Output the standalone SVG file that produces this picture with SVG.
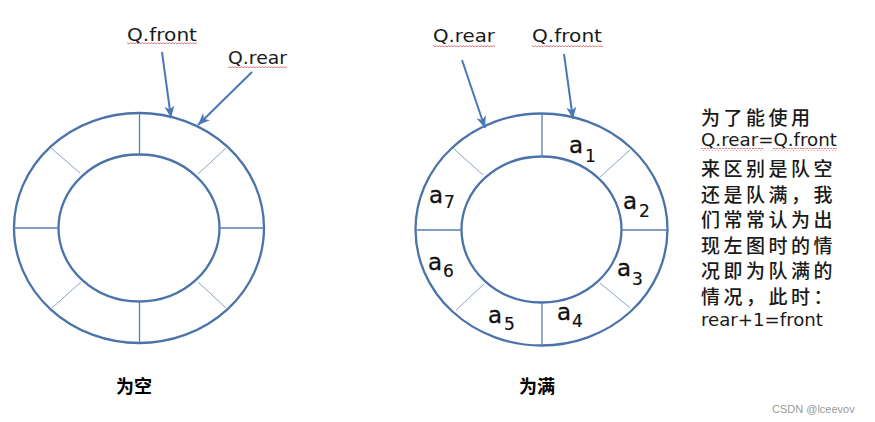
<svg xmlns="http://www.w3.org/2000/svg" width="875" height="422" viewBox="0 0 875 422">
<style>
.ring{fill:none;stroke:#4b73aa;stroke-width:2.3}
.div{stroke:#5a7eb0;stroke-width:1.3}
.diag{stroke:#7c98c2;stroke-width:0.9}
.arr{fill:none;stroke:#4a78b6;stroke-width:2}
.lbl{font-family:"DejaVu Sans",Verdana,sans-serif;font-size:18px;fill:#1a1a1a}
.el{font-family:"DejaVu Sans",Verdana,sans-serif;font-size:23px;fill:#111;stroke:#111;stroke-width:0.35}
.sub{font-size:17px;stroke-width:0.2}
.cjk{font-family:"Noto Sans CJK SC",sans-serif;font-size:19px;font-weight:500;letter-spacing:3.5px;fill:#1a1a1a}
.lat{font-family:"DejaVu Sans",Verdana,sans-serif;font-size:18px;fill:#1a1a1a}
.cap{font-family:"Noto Sans CJK SC",sans-serif;font-size:18px;font-weight:bold;fill:#000}
.wm{font-family:"Liberation Sans",Arial,sans-serif;font-size:11px;fill:#9a9a9a}
.wave{fill:url(#wavy)}
</style>
<defs>
<pattern id="wavy" patternUnits="userSpaceOnUse" width="3" height="3">
<path d="M0,2.2 L1.5,0.6 L3,2.2" fill="none" stroke="#d05050" stroke-width="0.8"/>
</pattern>
<marker id="ah" markerUnits="userSpaceOnUse" markerWidth="14" markerHeight="12" refX="12" refY="6" orient="auto">
<path d="M0,1 L12,6 L0,11 L3.5,6 Z" fill="#4a78b6"/>
</marker>
</defs>
<rect width="875" height="422" fill="#fff"/>

<g id="ring-empty">
<ellipse class="ring" cx="139" cy="228" rx="125" ry="115"/>
<ellipse class="ring" cx="139" cy="228" rx="80.5" ry="73.5"/>
<line class="div" x1="139.5" y1="113" x2="139.5" y2="154.5"/>
<line class="div" x1="139.5" y1="301.5" x2="139.5" y2="343"/>
<line class="div" x1="14" y1="228" x2="58.5" y2="228"/>
<line class="div" x1="219.5" y1="228" x2="264" y2="228"/>
<line class="diag" x1="51" y1="148" x2="80" y2="173"/>
<line class="diag" x1="226" y1="148" x2="198" y2="174"/>
<line class="diag" x1="81" y1="282" x2="52" y2="308"/>
<line class="diag" x1="198" y1="282" x2="226" y2="308"/>
</g>

<g id="ring-full">
<ellipse class="ring" cx="541.5" cy="229.5" rx="126" ry="116"/>
<ellipse class="ring" cx="541.5" cy="229.5" rx="80" ry="73"/>
<line class="div" x1="542" y1="113.5" x2="542" y2="156.5"/>
<line class="div" x1="542" y1="302.5" x2="542" y2="345.5"/>
<line class="div" x1="416" y1="230" x2="461.5" y2="230"/>
<line class="div" x1="621.5" y1="230" x2="667.5" y2="230"/>
<line class="diag" x1="453" y1="148" x2="483" y2="175"/>
<line class="diag" x1="630" y1="150" x2="600" y2="177"/>
<line class="diag" x1="484" y1="284" x2="456" y2="310"/>
<line class="diag" x1="600" y1="283" x2="630" y2="308"/>
</g>

<g id="elements">
<text class="el" x="569" y="153">a<tspan class="sub" dx="2" dy="9">1</tspan></text>
<text class="el" x="623" y="209">a<tspan class="sub" dx="2" dy="8">2</tspan></text>
<text class="el" x="617" y="276">a<tspan class="sub" dx="1" dy="9">3</tspan></text>
<text class="el" x="557" y="320">a<tspan class="sub" dx="1" dy="7">4</tspan></text>
<text class="el" x="488" y="323">a<tspan class="sub" dx="2" dy="7">5</tspan></text>
<text class="el" x="428" y="270">a<tspan class="sub" dx="1" dy="7">6</tspan></text>
<text class="el" x="429" y="203">a<tspan class="sub" dx="1" dy="5">7</tspan></text>
</g>

<g id="pointer-labels">
<text class="lbl" x="127" y="41" textLength="70" lengthAdjust="spacingAndGlyphs">Q.front</text>
<rect class="wave" x="127" y="42" width="70" height="3"/>
<text class="lbl" x="228" y="64" textLength="59" lengthAdjust="spacingAndGlyphs">Q.rear</text>
<rect class="wave" x="228" y="65" width="59" height="3"/>
<text class="lbl" x="433" y="42" textLength="62" lengthAdjust="spacingAndGlyphs">Q.rear</text>
<rect class="wave" x="433" y="45" width="62" height="3"/>
<text class="lbl" x="532" y="42" textLength="70" lengthAdjust="spacingAndGlyphs">Q.front</text>
<rect class="wave" x="532" y="45" width="71" height="3"/>
</g>

<g id="connectors">
<line class="arr" x1="162" y1="52" x2="171" y2="118" marker-end="url(#ah)"/>
<line class="arr" x1="252" y1="72" x2="198" y2="125" marker-end="url(#ah)"/>
<line class="arr" x1="462" y1="60" x2="485" y2="128" marker-end="url(#ah)"/>
<line class="arr" x1="564" y1="54" x2="573" y2="119" marker-end="url(#ah)"/>
</g>

<g id="note">
<text class="cjk" x="701" y="125">为了能使用</text>
<text class="lat" x="701" y="146" textLength="136" lengthAdjust="spacingAndGlyphs">Q.rear=Q.front</text>
<rect class="wave" x="701" y="148" width="62" height="3"/>
<rect class="wave" x="772" y="148" width="65" height="3"/>
<text class="cjk" x="701" y="176">来区别是队空</text>
<text class="cjk" x="701" y="201.5">还是队满，我</text>
<text class="cjk" x="701" y="227">们常常认为出</text>
<text class="cjk" x="701" y="252.5">现左图时的情</text>
<text class="cjk" x="701" y="278">况即为队满的</text>
<text class="cjk" x="701" y="303.5">情况，此时：</text>
<text class="lat" x="701" y="326" textLength="122" lengthAdjust="spacingAndGlyphs">rear+1=front</text>
</g>

<g id="captions">
<text class="cap" x="116" y="393">为空</text>
<text class="cap" x="519" y="393">为满</text>
</g>
<text class="wm" x="772" y="413">CSDN @lceevov</text>
</svg>
